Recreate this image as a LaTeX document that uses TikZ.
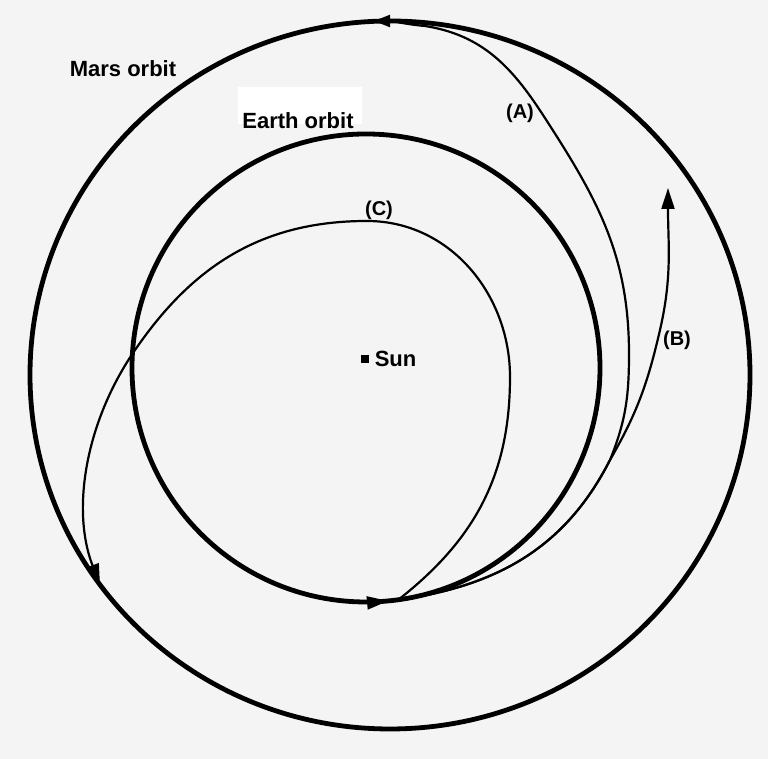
\documentclass[tikz,border=0pt]{standalone}
\usepackage{fontspec}
\setmainfont{Liberation Sans}
\usetikzlibrary{arrows.meta, positioning}
\definecolor{paper}{RGB}{244,244,244}

\begin{document}
\begin{tikzpicture}[x=0.5pt, y=0.5pt,
    orbit/.style={line width=2.4pt},
    track/.style={line width=1.1pt},
    tip/.style={-{Triangle[length=10.5pt, width=6.5pt]}},
    smalltip/.style={-{Triangle[length=8pt, width=6pt]}},
    lbl/.style={font=\fontsize{11pt}{13pt}\selectfont\bfseries, inner sep=0pt},
    tag/.style={font=\fontsize{10pt}{12pt}\selectfont\bfseries, inner sep=0pt}]

    \fill[paper] (0,0) rectangle (768,759);
    \useasboundingbox (0,0) rectangle (768,759);
    \fill[white] (238,635) rectangle (362,672);

    \coordinate (mars) at (390,384);
    \coordinate (earth) at (366,391);
    \coordinate (D) at (398,159);
    \coordinate (S) at (610,299);

    % orbits
    \draw[orbit] (mars) ellipse [x radius=360, y radius=354];
    \draw[orbit] (earth) circle [radius=234];
    \draw[track, tip] (earth) ++(-97:234) arc [start angle=-97, end angle=-84.6, radius=234];

    % (A)
    \coordinate (P) at (629,405);
    \coordinate (N) at (543,644);
    \coordinate (T) at (425,733);
    \coordinate (F) at (374,738);
    \draw[track, smalltip] (D) to[out=8, in=-117] (S) to[out=68, in=-90] (P)
        to[out=90, in=-57] (N) to[out=123, in=-9] (T) to[out=175, in=0] (F);

    % (B)
    \coordinate (Q) at (660,429);
    \coordinate (G) at (668,571);
    \draw[track, tip] (D) to[out=8, in=-117] (S) to[out=60, in=-103] (Q)
        to[out=77, in=-90] (G);

    % (C)
    \coordinate (R) at (510,382);
    \coordinate (K) at (367,538);
    \coordinate (X) at (133,406);
    \coordinate (E) at (100,174);
    \draw[track, tip] (D) to[out=38, in=-90] (R) to[out=90, in=0] (K)
        to[out=180, in=56] (X) to[out=236, in=111, looseness=0.9] (E);

    % labels
    \node[fill, minimum size=4pt, inner sep=0pt] (O) at (365,400) {};
    \node[lbl, right=2.5pt of O] (sun) {Sun};
    \node[lbl] (marsorbit) at (123,690) {Mars orbit};
    \node[lbl] (earthorbit) at (298,638) {Earth orbit};
    \node[tag] (tagA) at (520,646) {(A)};
    \node[tag] (tagB) at (677,419) {(B)};
    \node[tag] (tagC) at (379,549) {(C)};

\end{tikzpicture}
\end{document}
